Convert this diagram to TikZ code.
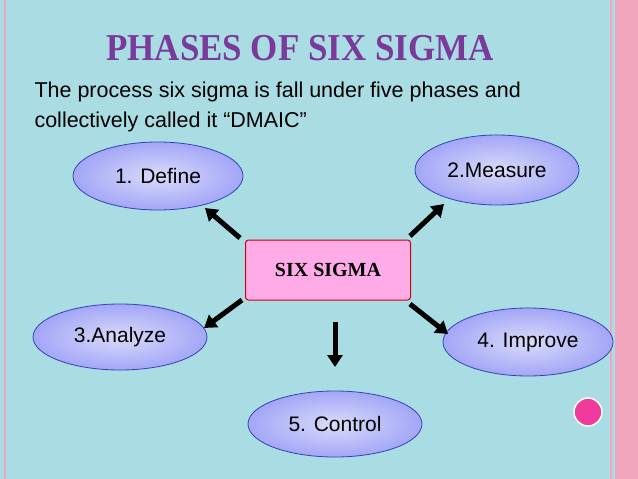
\documentclass[tikz,border=0pt]{standalone}
\usepackage{fontspec}
\setmainfont{Liberation Sans}
\newfontfamily\serifb{Liberation Serif}
\usetikzlibrary{shapes.geometric,arrows.meta,shadows}
\definecolor{bg}{HTML}{A9DDE3}
\definecolor{pinkb}{HTML}{F2A6BE}
\definecolor{ellf}{HTML}{BFC3F4}
\definecolor{elld}{HTML}{3444B0}
\definecolor{titlec}{HTML}{7A3A9A}
\tikzset{
 phase/.style={ellipse,draw=elld,line width=0.8pt,inner color=white!40!ellf,outer color=ellf!80!blue!90!white,minimum width=170pt,minimum height=68pt,font=\fontsize{21}{24}\selectfont},
 blk/.style={line width=5pt,-{Triangle[length=12pt,width=15pt]},black}
}
\begin{document}
\begin{tikzpicture}[x=1pt,y=-1pt]
\useasboundingbox (0,0) rectangle (638,479);
\fill[bg] (0,0) rectangle (638,479);
\fill[pinkb] (615,0) rectangle (638,479);
\draw[pinkb,line width=1.5pt] (611,0) -- (611,479);
\draw[pinkb,line width=1.5pt] (5,0) -- (5,479);
\node[circle,fill=magenta!70!pink,draw=white,line width=1.5pt,minimum size=28pt,inner sep=0] (dot) at (588,412) {};
\node[font=\serifb\bfseries\fontsize{38}{40}\selectfont,text=titlec,xscale=0.92] (title) at (300,48) {PHASES OF SIX SIGMA};
\node[anchor=west,font=\fontsize{21.5}{30}\selectfont,align=left] (intro) at (31,107) {The process six sigma is fall under five phases and\\collectively called it “DMAIC”};
\node[draw=red!80!black,line width=1pt,rounded corners=3pt,fill=pink!60!magenta!60!white,minimum width=165pt,minimum height=60pt,font=\serifb\bfseries\fontsize{20}{24}\selectfont] (c) at (328,270) {SIX SIGMA};
\node[phase] (d) at (158,176) {1. Define};
\node[phase,minimum width=164pt,minimum height=70pt] (m) at (497,170) {2.Measure};
\node[phase,minimum width=174pt,minimum height=66pt] (a) at (120,337) {3.Analyze};
\node[phase] (i) at (528,342) {4. Improve};
\node[phase,minimum width=174pt,minimum height=66pt] (k) at (335,424) {5. Control};
\coordinate (d1) at (240,238); \coordinate (d2) at (205,208);
\coordinate (m1) at (410,236); \coordinate (m2) at (444,204);
\coordinate (a1) at (242,300); \coordinate (a2) at (204,328);
\coordinate (i1) at (410,304); \coordinate (i2) at (448,334);
\coordinate (k1) at (335,322); \coordinate (k2) at (335,367);
\draw[blk] (d1) -- (d2);
\draw[blk] (m1) -- (m2);
\draw[blk] (a1) -- (a2);
\draw[blk] (i1) -- (i2);
\draw[blk] (k1) -- (k2);
\end{tikzpicture}
\end{document}
